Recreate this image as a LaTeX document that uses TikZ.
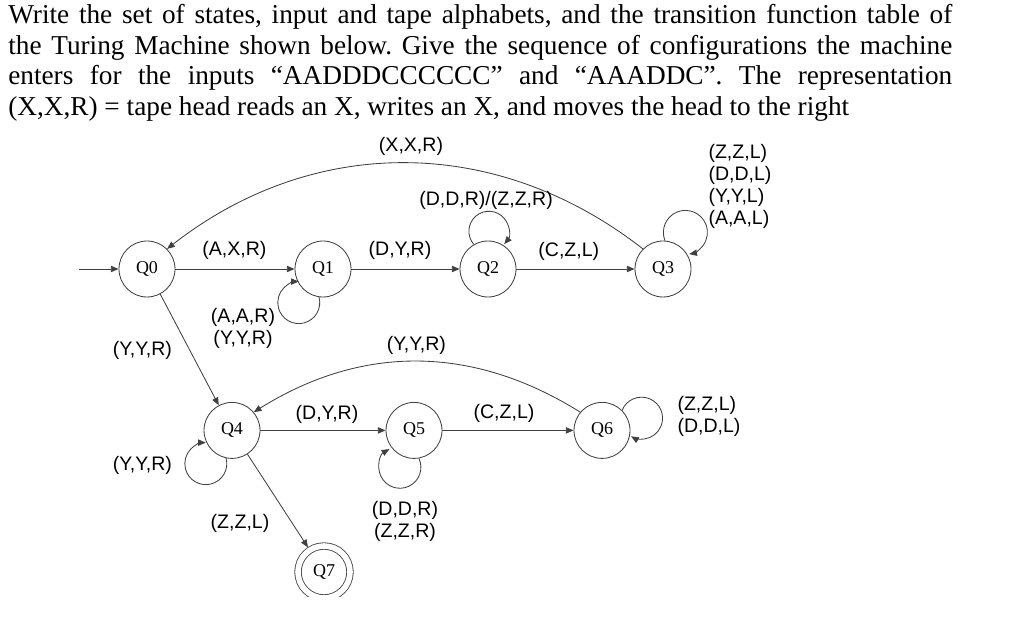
\documentclass[tikz,border=0pt]{standalone}
\usepackage{fontspec}
\setmainfont{Liberation Serif}
\newfontfamily\lblfont{Liberation Sans}
\usetikzlibrary{arrows.meta}
\definecolor{edgegray}{RGB}{64,64,64}
\frenchspacing

\begin{document}
\begin{tikzpicture}[
    >={Triangle[length=5.5pt,width=4.5pt]},
    state/.style={draw=edgegray, line width=0.6pt, circle, minimum size=1.4cm, inner sep=0pt, font=\fontsize{12.8}{14}\selectfont},
    lbl/.style={inner sep=0pt, align=center, font=\lblfont\fontsize{13.9}{15.6}\selectfont},
    edge/.style={->, draw=edgegray, line width=0.6pt}]
  \useasboundingbox (0,0) rectangle (25.6,-15.6);
  % question text
  \node[anchor=north west, inner sep=0pt, text width=23.6cm, align=justify, font=\fontsize{19.4}{21.8}\selectfont] (task) at (0.2,-0.1)
    {Write the set of states, input and tape alphabets, and the transition function table of\linebreak
     the Turing Machine shown below. Give the sequence of configurations the machine\linebreak
     enters for the inputs “AADDDCCCCCC” and “AAADDC”. The representation\linebreak
     (X,X,R) = tape head reads an X, writes an X, and moves the head to the right};
  % states
  \node[state] (Q0) at (3.675,-6.725) {Q0};
  \node[state] (Q1) at (8.075,-6.725) {Q1};
  \node[state] (Q2) at (12.2,-6.725) {Q2};
  \node[state] (Q3) at (16.575,-6.725) {Q3};
  \node[state] (Q4) at (5.8,-10.76) {Q4};
  \node[state] (Q5) at (10.35,-10.76) {Q5};
  \node[state] (Q6) at (15.05,-10.76) {Q6};
  \begin{scope}
    \clip (0,0) rectangle (25.6,-14.925);
    \node[state, double, double distance=4pt, minimum size=1.3cm, outer sep=2.4pt] (Q7) at (8.1,-14.3) {Q7};
  \end{scope}
  \coordinate (start) at (1.975,-6.725);
  % transitions
  \draw[edge] (start) -- (Q0);
  \draw[edge] (Q0) -- (Q1);
  \draw[edge] (Q1) -- (Q2);
  \draw[edge] (Q2) -- (Q3);
  \draw[edge] (Q3.135) to[bend right=38] (Q0.45);
  \draw[edge] (Q0) -- (Q4);
  \draw[edge] (Q4) -- (Q5);
  \draw[edge] (Q5) -- (Q6);
  \draw[edge] (Q6.140) to[bend right=32] (Q4.40);
  \draw[edge] (Q4) -- (Q7);
  % loops
  \draw[edge] (Q1.262) arc[start angle=15, end angle=-270, radius=0.525];
  \draw[edge] (Q2.120) arc[start angle=221, end angle=-40, radius=0.5];
  \draw[edge] (Q3.86) arc[start angle=202, end angle=-80, radius=0.55];
  \draw[edge] (Q4.258) arc[start angle=15, end angle=-270, radius=0.525];
  \draw[edge] (Q5.-80) arc[start angle=25, end angle=-240, radius=0.525];
  \draw[edge] (Q6.45) arc[start angle=158, end angle=-120, radius=0.525];
  % labels
  \node[lbl] (xxr) at (10.275,-3.65) {(X,X,R)};
  \node[lbl] (axr) at (5.86,-6.25) {(A,X,R)};
  \node[lbl] (dyr1) at (10.0,-6.25) {(D,Y,R)};
  \node[lbl] (czl1) at (14.22,-6.28) {(C,Z,L)};
  \node[lbl] (ddr2) at (12.15,-5.0) {(D,D,R)/(Z,Z,R)};
  \node[lbl, align=left] (loop3) at (18.5,-4.67) {(Z,Z,L)\\(D,D,L)\\(Y,Y,L)\\(A,A,L)};
  \node[lbl] (loop1) at (6.075,-8.21) {(A,A,R)\\(Y,Y,R)};
  \node[lbl] (yyr04) at (3.56,-8.75) {(Y,Y,R)};
  \node[lbl] (yyr64) at (10.41,-8.625) {(Y,Y,R)};
  \node[lbl] (dyr2) at (8.175,-10.35) {(D,Y,R)};
  \node[lbl] (loop4) at (3.56,-11.625) {(Y,Y,R)};
  \node[lbl] (zzl) at (6.0,-13.09) {(Z,Z,L)};
  \node[lbl] (loop5) at (10.125,-13.025) {(D,D,R)\\(Z,Z,R)};
  \node[lbl] (czl2) at (12.6,-10.34) {(C,Z,L)};
  \node[lbl, align=left] (loop6) at (17.725,-10.42) {(Z,Z,L)\\(D,D,L)};
\end{tikzpicture}
\end{document}
